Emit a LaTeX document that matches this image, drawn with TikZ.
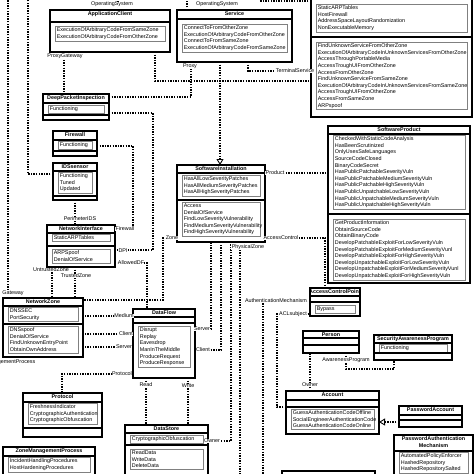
\documentclass[tikz,border=0pt]{standalone}
\usepackage{fontspec}
\setmainfont{Liberation Sans}
\usetikzlibrary{arrows.meta, positioning}
% class box: node, x, y, width, height, title
\newcommand*{\umlclass}[6]{%
  \node[umlbox, minimum width=#4, minimum height=#5] (#1) at (#2,#3) {};
  \node[umltitle, below=0.9pt of #1.north] (#1-t) {#6};}
% compartment line below the top of a class
\newcommand*{\compsep}[2]{\draw[umlsep] ([yshift=-#2]#1.north west) -- ([yshift=-#2]#1.north east);}
% list box inside a class: class, name, offset, text width, lines
\newcommand*{\attrlist}[5]{\node[umlattr, text width=#4, below right=#3 and 5pt of #1.north west] (#2) {#5};}

\begin{document}
\begin{tikzpicture}[x=1pt, y=-1pt,
    umlbox/.style={draw, line width=1.6pt, fill=white, anchor=north west, inner sep=0pt, outer sep=0pt},
    umltitle/.style={font=\fontsize{5.4}{6.8}\selectfont\bfseries, inner sep=0.5pt, align=center},
    umlsep/.style={line width=1.5pt},
    umlattr/.style={draw=black!50, line width=0.7pt, fill=white, align=left, inner sep=1.5pt,
      font=\fontsize{5.4}{6.6}\selectfont},
    conn/.style={line width=1.4pt, dash pattern=on 1.4pt off 1.2pt},
    gen/.style={conn, -{Triangle[open, length=6pt, width=7pt, line width=0.9pt]}},
    role/.style={font=\fontsize{5.4}{6}\selectfont, fill=white, inner sep=0.4pt}]
  \fill[white] (0,0) rectangle (474,474);
  \useasboundingbox (0,0) rectangle (474,474);
  \clip (0,0) rectangle (474,474);

  % classes
  \umlclass{ac}{50}{10}{120pt}{42pt}{ApplicationClient}
  \compsep{ac}{12pt}
  \attrlist{ac}{ac-a}{16pt}{107pt}{ExecutionOfArbitraryCodeFromSameZone\\ExecutionOfArbitraryCodeFromOtherZone}

  \umlclass{svc}{177}{10}{115pt}{52pt}{Service}
  \compsep{svc}{9pt}
  \attrlist{svc}{svc-a}{14pt}{102pt}{ConnectToFromOtherZone\\ExecutionOfArbitraryCodeFromOtherZone\\ConnectToFromSameZone\\ExecutionOfArbitraryCodeFromSameZone}

  \node[umlbox, minimum width=161pt, minimum height=147pt] (host) at (311,-30) {};
  \compsep{host}{28pt}
  \attrlist{host}{host-a}{34pt}{148pt}{StaticARPTables\\HostFirewall\\AddressSpaceLayoutRandomization\\NonExecutableMemory}
  \compsep{host}{67pt}
  \attrlist{host}{host-o}{72pt}{148pt}{FindUnknownServiceFromOtherZone\\ExecutionOfArbitraryCodeInUnknownServicesFromOtherZone\\AccessThroughPortableMedia\\AccessTroughUIFromOtherZone\\AccessFromOtherZone\\FindUnknownServiceFromSameZone\\ExecutionOfArbitraryCodeInUnknownServicesFromSameZone\\AccessTroughUIFromOtherZone\\AccessFromSameZone\\ARPspoof}

  \umlclass{dpi}{43}{94}{66pt}{26pt}{DeepPacketInspection}
  \compsep{dpi}{9pt}
  \attrlist{dpi}{dpi-a}{11pt}{53pt}{Functioning}
  \compsep{dpi}{21pt}

  \umlclass{fw}{53}{131}{44pt}{25pt}{Firewall}
  \compsep{fw}{9pt}
  \attrlist{fw}{fw-a}{10pt}{31pt}{Functioning}
  \compsep{fw}{20pt}

  \umlclass{ids}{53}{163}{44pt}{37pt}{IDSsensor}
  \compsep{ids}{8pt}
  \attrlist{ids}{ids-a}{9pt}{31pt}{Functioning\\Tuned\\Updated}
  \compsep{ids}{33pt}

  \umlclass{ni}{47}{225}{68pt}{42pt}{NetworkInterface}
  \compsep{ni}{8pt}
  \attrlist{ni}{ni-a}{9pt}{55pt}{StaticARPTables}
  \compsep{ni}{21pt}
  \attrlist{ni}{ni-o}{24pt}{55pt}{ARPSpoof\\DenialOfService}

  \umlclass{nz}{3}{298}{80pt}{59pt}{NetworkZone}
  \compsep{nz}{8pt}
  \attrlist{nz}{nz-a}{9pt}{67pt}{DNSSEC\\PortSecurity}
  \compsep{nz}{26pt}
  \attrlist{nz}{nz-o}{28pt}{67pt}{DNSspoof\\DenialOfService\\FindUnknownEntryPoint\\ObtainOwnAddress}

  \umlclass{df}{133}{309}{62pt}{69pt}{DataFlow}
  \compsep{df}{8pt}
  \compsep{df}{14pt}
  \attrlist{df}{df-o}{17pt}{49pt}{Disrupt\\Replay\\Eavesdrop\\ManInTheMiddle\\ProduceRequest\\ProduceResponse}

  \umlclass{proto}{23}{393}{79pt}{44pt}{Protocol}
  \compsep{proto}{9pt}
  \attrlist{proto}{proto-a}{10pt}{66pt}{FreshnessIndicator\\CryptographicAuthentication\\CryptographicObfuscation}
  \compsep{proto}{35pt}

  \umlclass{ds}{125}{425}{83pt}{60pt}{DataStore}
  \compsep{ds}{8pt}
  \attrlist{ds}{ds-a}{10pt}{70pt}{CryptographicObfuscation}
  \compsep{ds}{20pt}
  \attrlist{ds}{ds-o}{24pt}{70pt}{ReadData\\WriteData\\DeleteData}

  \umlclass{zmp}{3}{447}{92pt}{40pt}{ZoneManagementProcess}
  \compsep{zmp}{9pt}
  \attrlist{zmp}{zmp-a}{10pt}{79pt}{IncidentHandlingProcedures\\HostHardeningProcedures}

  \umlclass{si}{177}{165}{88pt}{77pt}{SoftwareInstallation}
  \compsep{si}{8pt}
  \attrlist{si}{si-a}{10pt}{75pt}{HasAllLowSeverityPatches\\HasAllMediumSeverityPatches\\HasAllHighSeverityPatches}
  \compsep{si}{35pt}
  \attrlist{si}{si-o}{37pt}{75pt}{Access\\DenialOfService\\FindLowSeverityVulnerability\\FindMediumSeverityVulnerability\\FindHighSeverityVulnerability}

  \umlclass{sp}{328}{126}{142pt}{157pt}{SoftwareProduct}
  \compsep{sp}{8pt}
  \attrlist{sp}{sp-a}{9pt}{129pt}{CheckedWithStaticCodeAnalysis\\HasBeenScrutinized\\OnlyUsesSafeLanguages\\SourceCodeClosed\\BinaryCodeSecret\\HasPublicPatchableSeverityVuln\\HasPublicPatchableMediumSeverityVuln\\HasPublicPatchableHighSeverityVuln\\HasPublicUnpatchableLowSeverityVuln\\HasPublicUnpatchableMediumSeverityVuln\\HasPublicUnpatchableHighSeverityVuln}
  \compsep{sp}{88pt}
  \attrlist{sp}{sp-o}{93pt}{129pt}{GetProductInformation\\ObtainSourceCode\\ObtainBinaryCode\\DevelopPatchableExploitForLowSeverityVuln\\DevelopPatchableExploitForMediumSeverityVunl\\DevelopPatchableExploitForHighSeverityVuln\\DevelopUnpatchableExploitForLowSeverityVuln\\DevelopUnpatchableExploitForMediumSeverityVunl\\DevelopUnpatchableExploitForHighSeverityVuln}

  \umlclass{acp}{310}{288}{50pt}{28pt}{AccessControlPoint}
  \compsep{acp}{8pt}
  \compsep{acp}{14pt}
  \attrlist{acp}{acp-o}{17pt}{37pt}{Bypass}

  \umlclass{person}{303}{331}{56pt}{22pt}{Person}
  \compsep{person}{7pt}
  \compsep{person}{14pt}

  \umlclass{sap}{374}{335}{78pt}{25pt}{SecurityAwarenessProgram}
  \compsep{sap}{8pt}
  \attrlist{sap}{sap-a}{9pt}{65pt}{Functioning}
  \compsep{sap}{18pt}

  \umlclass{acct}{286}{391}{93pt}{43pt}{Account}
  \compsep{acct}{9pt}
  \compsep{acct}{16pt}
  \attrlist{acct}{acct-o}{18pt}{80pt}{GuessAuthenticationCodeOffline\\SocialEngineerAuthenticationCode\\GuessAuthenticationCodeOnline}

  \umlclass{pwacct}{399}{406}{63pt}{21pt}{PasswordAccount}
  \compsep{pwacct}{9pt}
  \compsep{pwacct}{14pt}

  \umlclass{pam}{394}{435}{79pt}{50pt}{PasswordAuthentication\\Mechanism}
  \compsep{pam}{16pt}
  \attrlist{pam}{pam-a}{17pt}{66pt}{AutomatedPolicyEnforcer\\HashedRepository\\HashedRepositorySalted}

  \node[umlbox, minimum width=93pt, minimum height=20pt] (auth) at (282,471) {};

  % free ends above and below the picture
  \coordinate (osA) at (118,-8);
  \coordinate (osB) at (187,-8);
  \coordinate (osC) at (260,-8);
  \coordinate (gwTop) at (8,-8);
  \coordinate (idsTop) at (28,-8);
  \coordinate (pzEnd) at (240,482);
  \coordinate (amEnd) at (263,482);

  % connectors
  \draw[conn] (ac.north -| osA) -- (osA);
  \draw[conn] (svc.north -| osB) -- (osB);
  \draw[conn] (host.west |- 0,1) -- (260,1) -- (osC);
  \draw[conn] (nz.north -| gwTop) -- (gwTop);
  \draw[conn] (ids.west |- 0,174) -- (28,174) -- (idsTop);
  \draw[conn] (ac.south -| 64,0) -- (dpi.north -| 64,0);
  \draw[conn] (dpi.east |- 0,97) -- (191,97) -- (svc.south -| 191,0);
  \draw[conn] (dpi.east |- 0,113) -- (153,113) -- (153,250) -- (ni.east |- 0,250);
  \draw[conn] (fw.east |- 0,146) -- (133,146) -- (133,229) -- (ni.east |- 0,229);
  \draw[conn] (ids.south -| 75,0) -- (ni.north -| 75,0);
  \draw[conn] (ni.south -| 52,0) -- (nz.north -| 52,0);
  \draw[conn] (ni.south -| 75,0) -- (nz.north -| 75,0);
  \draw[conn] (ni.east |- 0,263) -- (147,263) -- (df.north -| 147,0);
  \draw[conn] (si.west |- 0,238) -- (163,238) -- (163,300) -- (nz.east |- 0,300);
  \draw[conn] (df.west |- 0,316) -- (nz.east |- 0,316);
  \draw[conn] (df.west |- 0,334) -- (nz.east |- 0,334);
  \draw[conn] (df.west |- 0,347) -- (nz.east |- 0,347);
  \draw[conn] (df.east |- 0,329) -- (211,329) -- (si.south -| 211,0);
  \draw[conn] (df.east |- 0,350) -- (221,350) -- (si.south -| 221,0);
  \draw[conn] (df.west |- 0,374) -- (62,374) -- (proto.north -| 62,0);
  \draw[conn] (df.south -| 146,0) -- (ds.north -| 146,0);
  \draw[conn] (df.south -| 188,0) -- (ds.north -| 188,0);
  \draw[conn] (ds.east |- 0,441) -- (231,441) -- (si.south -| 231,0);
  \draw[conn] (si.south -| pzEnd) -- (pzEnd);
  \draw[conn] (acp.west |- 0,301) -- (263,301) -- (amEnd);
  \draw[conn] (si.east |- 0,238) -- (325,238) -- (acp.north -| 325,0);
  \draw[conn] (si.east |- 0,173) -- (sp.west |- 0,173);
  \draw[gen] (svc.south -| 220,0) -- (si.north -| 220,0);
  \draw[conn] (ac.south -| 155,0) -- (155,81) -- (host.west |- 0,81);
  \draw[conn] (svc.south -| 248,0) -- (248,71) -- (host.west |- 0,71);
  \draw[conn] (acct.west |- 0,407) -- (277,407) -- (277,314) -- (acp.west |- 0,314);
  \draw[conn] (acct.north -| 310,0) -- (person.south -| 310,0);
  \draw[conn] (person.south -| 346,0) -- (346,369) -- (394,369) -- (sap.south -| 394,0);
  \draw[gen] (pwacct.west |- 0,422) -- (acct.east |- 0,422);

  % role names
  \node[role] (lOS1) at (112,4.5) {OperatingSystem};
  \node[role] (lOS2) at (217,4) {OperatingSystem};
  \node[role] (lPG) at (65,56) {ProxyGateway};
  \node[role] (lProxy) at (190,66) {Proxy};
  \node[role] (lTS) at (295,71) {TerminalService};
  \node[role] (lDPI) at (123,251) {DPI};
  \node[role] (lFW) at (125,229) {Firewall};
  \node[role] (lPIDS) at (80,219) {PerimeterIDS};
  \node[role] (lUZ) at (51,270) {UntrustedZone};
  \node[role] (lTZ) at (76,276) {TrustedZone};
  \node[role] (lADF) at (131,263) {AllowedDF};
  \node[role] (lGW) at (13,293) {Gateway};
  \node[role] (lZone) at (172,238) {Zone};
  \node[role] (lMed) at (124,316) {Medium};
  \node[role] (lCl) at (126,334) {Client};
  \node[role] (lSv) at (124,347) {Server};
  \node[role] (lSv2) at (202,329) {Server};
  \node[role] (lCl2) at (203,350) {Client};
  \node[role] (lProt) at (122,374) {Protocol};
  \node[role] (lRead) at (146,385) {Read};
  \node[role] (lWrite) at (188,386) {Write};
  \node[role] (lOwn) at (212,441) {Owner};
  \node[role] (lPZ) at (248,247) {PhysicalZone};
  \node[role] (lAM) at (276,301) {AuthenticationMechanism};
  \node[role] (lAC) at (281,238) {AccessControl};
  \node[role] (lProd) at (275,173) {Product};
  \node[role] (lACL) at (293,314) {ACLsubject};
  \node[role] (lOwn2) at (310,385) {Owner};
  \node[role] (lAP) at (346,360) {AwarenessProgram};
  \node[role, anchor=east] (lZMP) at (36,362) {ZoneManagementProcess};
\end{tikzpicture}
\end{document}
